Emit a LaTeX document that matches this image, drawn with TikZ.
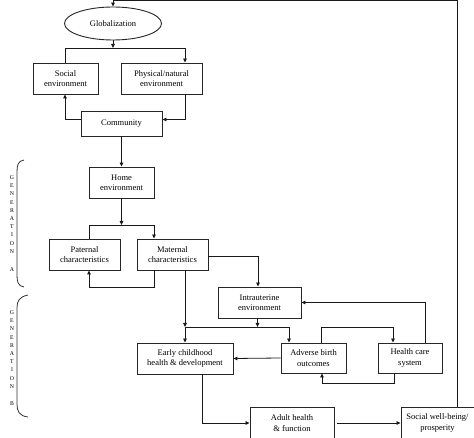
\documentclass[tikz,border=0pt]{standalone}
\usepackage{fontspec}
\setmainfont{Liberation Serif}
\usetikzlibrary{arrows.meta,shapes.geometric}
\begin{document}
\begin{tikzpicture}[x=1pt,y=-1pt,
  box/.style={draw=black!85,line width=0.9pt,fill=white,align=center,inner sep=1pt,
    font=\fontsize{8.5}{10.4}\selectfont},
  oval/.style={draw=black!85,line width=0.9pt,ellipse,inner sep=0pt,
    font=\fontsize{8.5}{10.4}\selectfont,minimum width=97pt,minimum height=33pt},
  arr/.style={-{Triangle[length=4pt,width=3.6pt]}},
  ln/.style={line width=0.8pt,black!90},
  gen/.style={align=center,inner sep=0pt,font=\fontsize{5.8}{8.2}\selectfont},
  brk/.style={line width=0.8pt,black!80}]
\useasboundingbox (0,0) rectangle (474,438);
% nodes
\node[oval] (glob) at (113,23.5) {Globalization};
\node[box,minimum width=65pt,minimum height=31pt] (soc) at (65.5,78.5) {Social\\environment};
\node[box,minimum width=81pt,minimum height=31pt] (phys) at (161.5,78.5) {Physical/natural\\environment};
\node[box,minimum width=81pt,minimum height=25pt] (comm) at (121.5,123.5) {Community};
\node[box,minimum width=65pt,minimum height=31pt] (home) at (121.5,182.5) {Home\\environment};
\node[box,minimum width=71pt,minimum height=31pt] (pat) at (84.5,254.5) {Paternal\\characteristics};
\node[box,minimum width=71pt,minimum height=31pt] (mat) at (172.5,254.5) {Maternal\\characteristics};
\node[box,minimum width=83pt,minimum height=31pt] (intra) at (259.5,302.5) {Intrauterine\\environment};
\node[box,minimum width=96pt,minimum height=31pt] (early) at (185,358.5) {Early childhood\\health \& development};
\node[box,minimum width=65pt,minimum height=30pt] (adv) at (313.5,358) {Adverse birth\\outcomes};
\node[box,minimum width=64pt,minimum height=30pt] (hcs) at (410,358) {Health care\\system};
\node[box,minimum width=84pt,minimum height=32pt] (adult) at (292,423) {Adult health\\\& function};
\node[box,minimum width=73pt,minimum height=32pt] (sw) at (437.5,423) {Social well-being/\\prosperity};
% junctions
\coordinate (j1) at (113,48);
\coordinate (j2) at (121.5,225);
\coordinate (j3) at (185,327);
\coordinate (fb) at (457,407);
\coordinate (top) at (457,0);
% connectors
\draw[ln,arr] (fb) -- (top) -- (glob.north |- top) -- (glob.north);
\draw[ln,arr] (glob.south) -- (j1);
\draw[ln] ([xshift=-0.5pt]soc.north) |- (j1);
\draw[ln,arr] (j1) -| ([xshift=23.5pt]phys.north);
\draw[ln,arr] ([xshift=23.5pt]phys.south) |- ([yshift=4pt]comm.east);
\draw[ln,arr] ([yshift=4pt]comm.west) -| ([xshift=-0.5pt]soc.south);
\draw[ln,arr] (comm.south) -- (home.north);
\draw[ln,arr] (home.south) -- (j2);
\draw[ln] ([xshift=4.5pt]pat.north) |- (j2);
\draw[ln,arr] (j2) -| ([xshift=-18.5pt]mat.north);
\draw[ln,arr] ([xshift=-18.5pt]mat.south) -- ++(0,17) -| ([xshift=4.5pt]pat.south);
\draw[ln,arr] ([yshift=-1.5pt]mat.east) -| ([xshift=-1.5pt]intra.north);
\draw[ln,arr] ([xshift=12.5pt]mat.south) -- (j3);
\draw[ln,arr] (j3) -- (early.north);
\draw[ln,arr] ([xshift=-2pt]intra.south) -- ([xshift=-2pt]intra.south |- j3);
\draw[ln,arr] (j3) -| ([xshift=-24.5pt]adv.north);
\draw[ln,arr] (adv.west) -- (early.east);
\draw[ln,arr] ([xshift=7.5pt]adv.north) -- ++(0,-15) -| ([xshift=-17pt]hcs.north);
\draw[ln,arr] ([xshift=15pt]hcs.north) |- (intra.east);
\draw[ln,arr] ([xshift=-16pt]hcs.south) -- ++(0,10) -| ([xshift=8.5pt]adv.south);
\draw[ln,arr] ([xshift=17pt]early.south) |- (adult.west);
\draw[ln,arr,shorten <=3pt] (adult.east) -- (sw.west);
% brackets and labels
\draw[brk] (24,160) .. controls (18,161) and (17,165) .. (17,172) -- (17,275) .. controls (17,282) and (18,286) .. (24,287);
\draw[brk] (28,295) .. controls (19,297) and (17,301) .. (17,308) -- (17,404) .. controls (17,411) and (19,416) .. (28,417);
\node[gen,anchor=north] (ga) at (12,175.5) {G\\E\\N\\E\\R\\A\\T\\I\\O\\N\\[10pt]A};
\node[gen,anchor=north] (gb) at (12,310.5) {G\\E\\N\\E\\R\\A\\T\\I\\O\\N\\[8.5pt]B};
\end{tikzpicture}
\end{document}
